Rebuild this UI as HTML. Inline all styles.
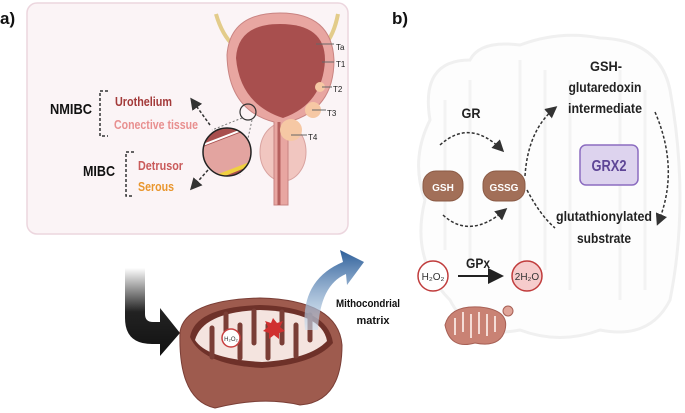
<!DOCTYPE html>
<html><head><meta charset="utf-8"><style>
html,body{margin:0;padding:0;background:#fff;}
svg{display:block;font-family:"Liberation Sans",sans-serif;}
</style></head><body>
<svg width="685" height="413" viewBox="0 0 685 413" xmlns="http://www.w3.org/2000/svg">
<defs>
<marker id="ah" markerWidth="8" markerHeight="8" refX="6" refY="4" orient="auto"><path d="M0,0 L8,4 L0,8 z" fill="#333"/></marker>
<marker id="ah2" markerWidth="8" markerHeight="8" refX="6" refY="4" orient="auto"><path d="M0,0 L8,4 L0,8 z" fill="#222"/></marker>
<linearGradient id="blk" x1="0" y1="0" x2="0" y2="1"><stop offset="0" stop-color="#fff"/><stop offset="0.5" stop-color="#222"/><stop offset="1" stop-color="#111"/></linearGradient>
<linearGradient id="blu" x1="0" y1="1" x2="0" y2="0"><stop offset="0" stop-color="#cfe0f0" stop-opacity="0.6"/><stop offset="1" stop-color="#2d5f9a"/></linearGradient>
</defs>
<text x="0" y="24" font-size="17" font-weight="bold" fill="#111">a)</text>
<rect x="27" y="3" width="321" height="231" rx="10" fill="#fbf4f6" stroke="#ecd6de" stroke-width="1.5"/>
<path d="M216,14 Q222,35 234,46" stroke="#e3cc8a" stroke-width="4" fill="none"/>
<path d="M338,14 Q334,35 324,46" stroke="#e3cc8a" stroke-width="4" fill="none"/>
<ellipse cx="283" cy="152" rx="23" ry="29" fill="#f1c6c0" stroke="#d9a3a0"/>
<path d="M227,55 Q230,13 280,13 Q332,13 334,60 Q334,110 288,122 L288,205 L274,205 L274,122 Q228,110 227,55 z" fill="#e8a6a1" stroke="#c98482"/>
<path d="M236,58 Q238,24 280,24 Q325,24 325,60 Q323,104 283,118 Q240,104 236,58 z" fill="#a84f4e"/>
<path d="M279,122 L279,205" stroke="#b5605e" stroke-width="3"/>
<circle cx="320" cy="87" r="5" fill="#f6c8a4"/>
<circle cx="313" cy="110" r="8" fill="#f6c8a4"/>
<circle cx="291" cy="130" r="11" fill="#f6c8a4"/>
<g stroke="#666" stroke-width="1" font-size="8" fill="#222">
<line x1="316" y1="44" x2="334" y2="44"/><text x="336" y="50" stroke="none">Ta</text>
<line x1="322" y1="62" x2="334" y2="62"/><text x="336" y="67" stroke="none">T1</text>
<line x1="322" y1="87" x2="332" y2="87"/><text x="333" y="92" stroke="none">T2</text>
<line x1="312" y1="110" x2="326" y2="110"/><text x="327" y="116" stroke="none">T3</text>
<line x1="291" y1="135" x2="307" y2="135"/><text x="308" y="140" stroke="none">T4</text>
</g>
<circle cx="248" cy="112" r="8" fill="none" stroke="#333" stroke-width="1.2"/>
<line x1="242" y1="118" x2="212" y2="130" stroke="#777" stroke-dasharray="2,2"/>
<line x1="252" y1="120" x2="240" y2="175" stroke="#777" stroke-dasharray="2,2"/>
<clipPath id="mc"><circle cx="227" cy="152" r="24"/></clipPath>
<g clip-path="url(#mc)">
<rect x="200" y="125" width="55" height="55" fill="#a84f4e"/>
<path d="M195,150 L260,125 L260,160 L195,185z" fill="#e3a4a0"/>
<path d="M195,183 L260,158 L260,162 L195,188z" fill="#f0d040"/>
<path d="M195,148 L260,123" stroke="#fff" stroke-width="2"/>
<rect x="195" y="188" width="70" height="10" fill="#fff"/>
</g>
<circle cx="227" cy="152" r="24" fill="none" stroke="#222" stroke-width="1.5"/>
<path d="M210,125 L192,100" stroke="#333" stroke-width="1.5" stroke-dasharray="3,2" fill="none" marker-end="url(#ah)"/>
<path d="M208,170 L192,188" stroke="#333" stroke-width="1.5" stroke-dasharray="3,2" fill="none" marker-end="url(#ah)"/>
<text x="50" y="114" font-size="15" font-weight="bold" fill="#111" textLength="42" lengthAdjust="spacingAndGlyphs">NMIBC</text>
<path d="M108,91 L100,91 L100,136 L108,136" stroke="#333" stroke-width="1.5" stroke-dasharray="3,2" fill="none"/>
<text x="115" y="106" font-size="13" font-weight="bold" fill="#a33a3a" textLength="57" lengthAdjust="spacingAndGlyphs">Urothelium</text>
<text x="114" y="129" font-size="13" font-weight="bold" fill="#e88f8f" textLength="84" lengthAdjust="spacingAndGlyphs">Conective tissue</text>
<text x="83" y="176" font-size="15" font-weight="bold" fill="#111" textLength="32" lengthAdjust="spacingAndGlyphs">MIBC</text>
<path d="M134,152 L126,152 L126,196 L134,196" stroke="#333" stroke-width="1.5" stroke-dasharray="3,2" fill="none"/>
<text x="138" y="170" font-size="13" font-weight="bold" fill="#c95a5a" textLength="45" lengthAdjust="spacingAndGlyphs">Detrusor</text>
<text x="138" y="191" font-size="13" font-weight="bold" fill="#e9962e" textLength="36" lengthAdjust="spacingAndGlyphs">Serous</text>
<!-- black arrow -->
<path d="M125,268 L145,268 L145,314 Q145,322 153,322 L160,322 L160,308 L180,333 L160,356 L160,344 L152,344 Q125,344 125,318 z" fill="url(#blk)"/>
<!-- mitochondrion -->
<path d="M180,332 Q185,300 260,298 Q338,300 342,345 Q342,402 300,405 Q262,396 215,408 Q178,400 180,332z" fill="#9e5b4e" stroke="#7a3e36"/>
<path d="M190,337 Q195,307 260,305 Q328,307 333,343 Q315,364 262,368 Q202,365 190,337z" fill="#6e3129"/>
<path d="M195,340 Q203,312 260,310 Q322,312 327,341 Q310,359 262,362 Q207,359 195,340z" fill="#f4e4df"/>
<g stroke="#7a3e36" stroke-width="5" fill="none" stroke-linecap="round">
<path d="M212,357 L212,328"/><path d="M226,314 L226,342"/><path d="M240,358 L240,325"/><path d="M254,311 L254,343"/><path d="M268,358 L268,325"/><path d="M282,312 L282,343"/><path d="M296,356 L296,325"/><path d="M310,315 L310,340"/>
</g>
<circle cx="231" cy="338" r="9" fill="#fff" stroke="#c84040" stroke-width="1.5"/>
<text x="231" y="341" font-size="6" text-anchor="middle" fill="#333">H₂O₂</text>
<polygon points="273,318 277,323 283,321 280,327 285,331 279,333 279,339 274,335 269,339 269,333 263,331 268,327 265,321 271,323" fill="#d03030"/>
<path d="M305,330 Q300,280 343,262 L340,250 L364,262 L347,285 L346,274 Q320,285 318,330 z" fill="url(#blu)"/>
<text x="368" y="307" font-size="11" font-weight="bold" text-anchor="middle" fill="#111" textLength="64" lengthAdjust="spacingAndGlyphs">Mithocondrial</text>
<text x="373" y="324" font-size="11" font-weight="bold" text-anchor="middle" fill="#111" textLength="33" lengthAdjust="spacingAndGlyphs">matrix</text>
<!-- Panel b -->
<text x="392" y="24" font-size="17" font-weight="bold" fill="#111">b)</text>
<path d="M430,120 Q420,60 470,60 Q480,40 520,45 Q560,30 600,38 Q660,40 670,90 Q690,200 670,300 Q650,340 600,330 Q560,345 520,330 Q470,340 450,300 Q410,260 425,200 Q410,160 430,120z" fill="#fdfdfd" stroke="#f0f0f0" stroke-width="3"/>
<g stroke="#f3f3f3" stroke-width="3" fill="none">
<path d="M445,250 L445,100"/><path d="M470,270 L470,80"/><path d="M520,270 L520,60"/><path d="M545,270 L545,70"/><path d="M570,290 L570,80"/><path d="M620,300 L620,70"/><path d="M645,290 L645,90"/>
</g>
<text x="471" y="118" font-size="14" font-weight="bold" text-anchor="middle" fill="#222" textLength="19" lengthAdjust="spacingAndGlyphs">GR</text>
<path d="M440,145 Q470,118 502,150" stroke="#333" stroke-width="1.5" stroke-dasharray="3,2" fill="none" marker-end="url(#ah)"/>
<path d="M443,215 Q470,240 505,210" stroke="#333" stroke-width="1.5" stroke-dasharray="3,2" fill="none" marker-end="url(#ah)"/>
<rect x="423" y="171" width="40" height="30" rx="13" fill="#a26f58" stroke="#8a5a45"/>
<text x="443" y="191" font-size="10" font-weight="bold" text-anchor="middle" fill="#fff">GSH</text>
<rect x="483" y="171" width="42" height="30" rx="13" fill="#a26f58" stroke="#8a5a45"/>
<text x="504" y="191" font-size="10" font-weight="bold" text-anchor="middle" fill="#fff">GSSG</text>
<path d="M525,176 Q528,130 555,108" stroke="#333" stroke-width="1.5" stroke-dasharray="3,2" fill="none" marker-end="url(#ah)"/>
<path d="M527,190 Q540,215 555,228" stroke="#333" stroke-width="1.5" stroke-dasharray="3,2" fill="none"/>
<path d="M655,112 Q680,170 658,223" stroke="#333" stroke-width="1.5" stroke-dasharray="3,2" fill="none" marker-end="url(#ah)"/>
<text x="606" y="71" font-size="14" font-weight="bold" text-anchor="middle" fill="#222" textLength="32" lengthAdjust="spacingAndGlyphs">GSH-</text>
<text x="605" y="92" font-size="14" font-weight="bold" text-anchor="middle" fill="#222" textLength="73" lengthAdjust="spacingAndGlyphs">glutaredoxin</text>
<text x="605" y="113" font-size="14" font-weight="bold" text-anchor="middle" fill="#222" textLength="74" lengthAdjust="spacingAndGlyphs">intermediate</text>
<rect x="580" y="145" width="58" height="40" rx="6" fill="#ddd3ee" stroke="#8b6cc0" stroke-width="1.5"/>
<text x="609" y="171" font-size="16" font-weight="bold" text-anchor="middle" fill="#5e4596" textLength="35" lengthAdjust="spacingAndGlyphs">GRX2</text>
<text x="604" y="221" font-size="14" font-weight="bold" text-anchor="middle" fill="#222" textLength="96" lengthAdjust="spacingAndGlyphs">glutathionylated</text>
<text x="604" y="243" font-size="14" font-weight="bold" text-anchor="middle" fill="#222" textLength="54" lengthAdjust="spacingAndGlyphs">substrate</text>
<circle cx="433" cy="276" r="15" fill="#fff" stroke="#c03c3c" stroke-width="1.5"/>
<text x="433" y="280" font-size="10" text-anchor="middle" fill="#333">H₂O₂</text>
<line x1="458" y1="276" x2="500" y2="276" stroke="#222" stroke-width="2" marker-end="url(#ah2)"/>
<text x="478" y="268" font-size="14" font-weight="bold" text-anchor="middle" fill="#222" textLength="24" lengthAdjust="spacingAndGlyphs">GPx</text>
<circle cx="527" cy="276" r="15" fill="#f6cccc" stroke="#c03c3c" stroke-width="1.5"/>
<text x="527" y="280" font-size="10" text-anchor="middle" fill="#333">2H₂O</text>
<path d="M445,325 Q450,305 480,307 Q510,310 505,330 Q500,348 475,343 Q450,350 445,325z" fill="#c98274" stroke="#a76055"/>
<g stroke="#f4dcd6" stroke-width="2" fill="none"><path d="M455,335 L455,318"/><path d="M463,312 L463,332"/><path d="M471,338 L471,314"/><path d="M479,312 L479,334"/><path d="M487,336 L487,314"/><path d="M495,316 L495,332"/></g>
<circle cx="508" cy="311" r="5" fill="#e0a599" stroke="#a76055"/>
</svg>
</body></html>
